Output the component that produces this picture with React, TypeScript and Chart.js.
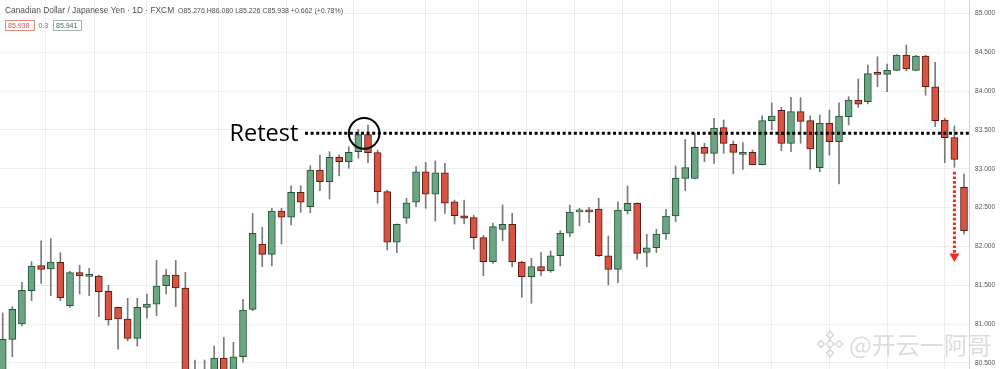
import React, { useEffect, useRef } from "react";
import { Chart, registerables } from "chart.js";

Chart.register(...registerables);

// ---- Data (CAD/JPY daily candles) ----
const opens = [
  80.28, 80.804, 81.001, 81.43, 81.752, 81.709, 81.795, 81.237, 81.662, 81.614,
  81.619, 81.422, 81.216, 81.066, 80.817, 81.216, 81.255, 81.494, 81.632, 81.465,
  80.4, 80.32, 80.35, 80.564, 80.38, 80.58, 81.19, 82.031, 81.898, 82.456,
  82.375, 82.696, 82.511, 82.983, 82.833, 83.147, 83.09, 83.219, 83.438, 83.206,
  82.704, 82.053, 82.362, 82.568, 82.961, 82.671, 82.948, 82.575, 82.395, 82.37,
  82.112, 81.803, 82.22, 82.284, 81.799, 81.61, 81.739, 81.687, 81.88, 82.169,
  82.445, 82.451, 82.481, 81.88, 81.705, 82.46, 82.555, 81.924, 81.983, 82.16,
  82.391, 82.876, 82.876, 83.275, 83.198, 83.528, 83.314, 83.185, 83.211, 83.051,
  83.618, 83.752, 83.327, 83.734, 83.618, 83.013, 83.584, 83.347, 83.669, 83.884,
  83.862, 84.223, 84.215, 84.266, 84.463, 84.266, 84.45, 84.055, 83.627, 83.399,
  82.761,
];
const highs = [
  81.143, 81.224, 81.538, 81.803, 82.073, 82.099, 81.919, 81.68, 81.757, 81.718,
  81.63, 81.499, 81.22, 81.332, 81.332, 81.387, 81.821, 81.705, 81.821, 81.667,
  80.538, 80.538, 80.718, 80.83, 80.766, 81.319, 82.426, 82.246, 82.49, 82.49,
  82.781, 82.781, 83.039, 83.176, 83.219, 83.18, 83.283, 83.507, 83.562, 83.241,
  82.725, 82.29, 82.619, 83.026, 83.082, 83.099, 83.069, 82.597, 82.597, 82.4,
  82.14, 82.297, 82.533, 82.426, 81.81, 81.847, 81.924, 81.941, 82.202, 82.533,
  82.49, 82.503, 82.619, 82.134, 82.575, 82.777, 82.56, 82.156, 82.22, 82.477,
  83.035, 83.378, 83.456, 83.327, 83.649, 83.627, 83.356, 83.335, 83.241, 83.682,
  83.849, 83.79, 83.919, 83.914, 83.682, 83.691, 83.755, 83.849, 83.927, 84.154,
  84.335, 84.441, 84.347, 84.47, 84.592, 84.46, 84.46, 84.369, 83.649, 83.55,
  82.932,
];
const lows = [
  80.216, 80.58, 80.976, 81.301, 81.525, 81.365, 81.301, 81.216, 81.387, 81.365,
  81.095, 80.985, 80.676, 80.786, 80.718, 81.075, 81.108, 81.387, 81.224, 80.2,
  80.25, 80.28, 80.3, 80.32, 80.34, 80.51, 81.172, 81.739, 81.748, 82.031,
  82.275, 82.439, 82.434, 82.717, 82.61, 82.906, 83.005, 83.134, 83.077, 82.555,
  81.954, 81.919, 82.297, 82.511, 82.49, 82.327, 82.426, 82.288, 82.288, 81.963,
  81.623, 81.782, 82.073, 81.739, 81.345, 81.268, 81.623, 81.667, 81.748, 82.125,
  82.263, 82.305, 81.87, 81.503, 81.533, 82.417, 81.834, 81.739, 81.919, 82.091,
  82.318, 82.717, 82.87, 83.09, 83.069, 83.198, 82.932, 82.992, 83.05, 83.05,
  83.498, 83.232, 83.219, 83.327, 82.992, 82.961, 83.176, 82.803, 83.562, 83.79,
  83.833, 84.055, 83.991, 84.26, 84.261, 84.26, 83.945, 83.541, 83.077, 83.018,
  82.16,
];
const closes = [
  80.804, 81.19, 81.435, 81.748, 81.705, 81.799, 81.34, 81.662, 81.619, 81.622,
  81.417, 81.053, 81.066, 80.817, 81.216, 81.259, 81.49, 81.632, 81.465, 80.25,
  80.3, 80.38, 80.564, 80.36, 80.58, 81.181, 82.169, 81.898, 82.456, 82.375,
  82.696, 82.568, 82.983, 82.833, 83.147, 83.09, 83.211, 83.438, 83.206, 82.704,
  82.053, 82.284, 82.562, 82.961, 82.671, 82.948, 82.555, 82.395, 82.362, 82.112,
  81.803, 82.254, 82.284, 81.803, 81.61, 81.739, 81.683, 81.88, 82.169, 82.443,
  82.451, 82.445, 81.88, 81.705, 82.468, 82.555, 81.911, 81.983, 82.16, 82.391,
  82.876, 83.013, 83.275, 83.198, 83.524, 83.327, 83.211, 83.211, 83.051, 83.618,
  83.678, 83.327, 83.734, 83.61, 83.254, 83.584, 83.347, 83.678, 83.884, 83.829,
  84.223, 84.215, 84.266, 84.463, 84.283, 84.45, 84.055, 83.618, 83.399, 83.121,
  82.202,
];

const yTickValues = [80.5, 81.0, 81.5, 82.0, 82.5, 83.0, 83.5, 84.0, 84.5, 85.0];
const gridCandleIndices = [2, 7, 12, 18, 27, 32, 41, 47, 52, 57, 62, 67, 72, 77, 83, 89, 95];

const titleText = "Canadian Dollar / Japanese Yen · 1D · FXCM";
const ohlcText = "O85.276 H86.080 L85.226 C85.938 +0.662 (+0.78%)";
const bidText = "85.938";
const spreadText = "0.3";
const askText = "85.941";
const retestLabel = "Retest";
const watermarkText = "@开云一阿哥";

// annotation anchors (in data units)
const retestLevel = 83.455;
const retestLineStartIndex = 31.45;
const retestTextEndIndex = 30.75;
const retestCircleIndex = 37.6;
const arrowIndex = 99;
const arrowTopPrice = 82.96;
const arrowTipPrice = 81.8;

// view window
const yMin = 80.4222;
const yMax = 85.1712;
const xMin = -0.281;
const xMax = 100.52;

const UP = "#6ba583";
const UP_BORDER = "#225437";
const DOWN = "#d75442";
const DOWN_BORDER = "#5b1a13";
const WICK = "#7a7a7a";

const annotationPlugin = {
  id: "annotations",
  afterDatasetsDraw(chart: any) {
    const ctx = chart.ctx as CanvasRenderingContext2D;
    const xs = chart.scales.x;
    const ys = chart.scales.y;
    const area = chart.chartArea;
    ctx.save();

    // Retest dotted line
    const yR = ys.getPixelForValue(retestLevel);
    ctx.beginPath();
    ctx.setLineDash([3, 2.6]);
    ctx.lineWidth = 3;
    ctx.lineCap = "butt";
    ctx.strokeStyle = "#000";
    ctx.moveTo(xs.getPixelForValue(retestLineStartIndex), yR);
    ctx.lineTo(area.right, yR);
    ctx.stroke();
    ctx.setLineDash([]);

    // circle
    ctx.beginPath();
    ctx.lineWidth = 2;
    ctx.arc(xs.getPixelForValue(retestCircleIndex), yR, 15.3, 0, Math.PI * 2);
    ctx.stroke();

    // Retest text
    ctx.fillStyle = "#000";
    ctx.font = '23.5px "Open Sans"';
    ctx.textAlign = "right";
    ctx.textBaseline = "alphabetic";
    ctx.fillText(retestLabel, xs.getPixelForValue(retestTextEndIndex), yR + 7.6);

    // Red dotted arrow
    const ax = xs.getPixelForValue(arrowIndex);
    const aTop = ys.getPixelForValue(arrowTopPrice);
    const aTip = ys.getPixelForValue(arrowTipPrice);
    ctx.strokeStyle = "#ee2b24";
    ctx.fillStyle = "#ee2b24";
    ctx.beginPath();
    ctx.setLineDash([2.7, 1.9]);
    ctx.lineWidth = 3;
    ctx.moveTo(ax, aTop);
    ctx.lineTo(ax, aTip - 8);
    ctx.stroke();
    ctx.setLineDash([]);
    ctx.beginPath();
    ctx.moveTo(ax - 5, aTip - 8.5);
    ctx.lineTo(ax + 5, aTip - 8.5);
    ctx.lineTo(ax, aTip);
    ctx.closePath();
    ctx.fill();

    ctx.restore();
  },
  afterDraw(chart: any) {
    const ctx = chart.ctx as CanvasRenderingContext2D;
    ctx.save();
    // header
    ctx.textAlign = "left";
    ctx.textBaseline = "alphabetic";
    ctx.fillStyle = "#4f4f4f";
    ctx.font = '8.4px "Liberation Sans"';
    ctx.fillText(titleText, 5, 12.7);
    ctx.font = '7px "Liberation Sans"';
    ctx.fillText(ohlcText, 178, 12.7);

    // bid box
    ctx.lineWidth = 1;
    ctx.strokeStyle = "#e08a80";
    ctx.fillStyle = "#ffffff";
    ctx.beginPath();
    ctx.rect(5.5, 20.5, 29, 10);
    ctx.fill();
    ctx.stroke();
    ctx.fillStyle = "#d75442";
    ctx.font = '7px "Liberation Sans"';
    ctx.textBaseline = "middle";
    ctx.fillText(bidText, 8, 25.8);
    ctx.fillStyle = "#6f6f6f";
    ctx.fillText(spreadText, 38.5, 25.8);
    ctx.strokeStyle = "#9fb7ab";
    ctx.beginPath();
    ctx.rect(53.5, 20.5, 28, 10);
    ctx.stroke();
    ctx.fillStyle = "#3f6655";
    ctx.fillText(askText, 56, 25.8);

    // watermark
    const cx = 830, cy = 344;
    ctx.strokeStyle = "rgba(175,175,175,0.5)";
    ctx.lineWidth = 1.3;
    const diamond = (x: number, y: number, r: number) => {
      ctx.beginPath();
      ctx.moveTo(x, y - r);
      ctx.lineTo(x + r, y);
      ctx.lineTo(x, y + r);
      ctx.lineTo(x - r, y);
      ctx.closePath();
      ctx.stroke();
    };
    diamond(cx, cy, 4);
    diamond(cx, cy - 9, 3.5);
    diamond(cx, cy + 9, 3.5);
    diamond(cx - 9, cy, 3.5);
    diamond(cx + 9, cy, 3.5);
    ctx.fillStyle = "rgba(175,175,175,0.42)";
    ctx.font = '24px "Noto Sans CJK SC"';
    ctx.textBaseline = "middle";
    ctx.textAlign = "left";
    ctx.fillText(watermarkText, 849, 345);
    ctx.restore();
  },
};

export default function App() {
  const canvasRef = useRef<HTMLCanvasElement | null>(null);

  useEffect(() => {
    if (!canvasRef.current) return;
    const idx = opens.map((_, i) => i);
    const up = idx.map((i) => closes[i] >= opens[i]);
    const chart = new Chart(canvasRef.current, {
      type: "bar",
      data: {
        datasets: [
          {
            label: "body",
            data: idx.map((i) => ({ x: i, y: [opens[i], closes[i]] })) as any,
            backgroundColor: up.map((u) => (u ? UP : DOWN)),
            borderColor: up.map((u) => (u ? UP_BORDER : DOWN_BORDER)),
            borderWidth: 1,
            borderSkipped: false,
            barThickness: 7,
            minBarLength: 2,
            grouped: false,
          } as any,
          {
            label: "wick",
            data: idx.map((i) => ({ x: i, y: [lows[i], highs[i]] })) as any,
            backgroundColor: WICK,
            borderWidth: 0,
            barThickness: 1,
            grouped: false,
          } as any,
        ],
      },
      options: {
        responsive: false,
        animation: false,
        devicePixelRatio: 1,
        layout: { padding: 0 },
        plugins: {
          legend: { display: false },
          tooltip: { enabled: false },
        },
        scales: {
          x: {
            type: "linear",
            min: xMin,
            max: xMax,
            offset: false,
            ticks: { display: false },
            grid: { color: "rgba(0,0,0,0.065)", drawTicks: false, lineWidth: 1 },
            border: { display: false },
            afterBuildTicks: (scale: any) => {
              scale.ticks = gridCandleIndices.map((v) => ({ value: v }));
            },
            afterFit: (scale: any) => {
              scale.height = 0;
              scale.paddingLeft = 0;
              scale.paddingRight = 0;
            },
          },
          y: {
            type: "linear",
            position: "right",
            min: yMin,
            max: yMax,
            ticks: {
              padding: 6,
              color: "#555",
              font: { family: "Liberation Sans", size: 6.6 },
              callback: (v: any) => Number(v).toFixed(3),
            },
            grid: { color: "rgba(0,0,0,0.065)", drawTicks: false, lineWidth: 1 },
            border: { display: true, color: "#d6d6d6" },
            afterBuildTicks: (scale: any) => {
              scale.ticks = yTickValues.map((v) => ({ value: v }));
            },
            afterFit: (scale: any) => {
              scale.width = 31;
              scale.paddingTop = 0;
              scale.paddingBottom = 0;
            },
          },
        },
      } as any,
      plugins: [annotationPlugin],
    });
    return () => chart.destroy();
  }, []);

  return (
    <div
      style={{
        position: "absolute",
        left: 0,
        top: 0,
        width: 1000,
        height: 369,
        background: "#fff",
        overflow: "hidden",
      }}
    >
      <canvas ref={canvasRef} width={1000} height={369} style={{ display: "block" }} />
    </div>
  );
}
